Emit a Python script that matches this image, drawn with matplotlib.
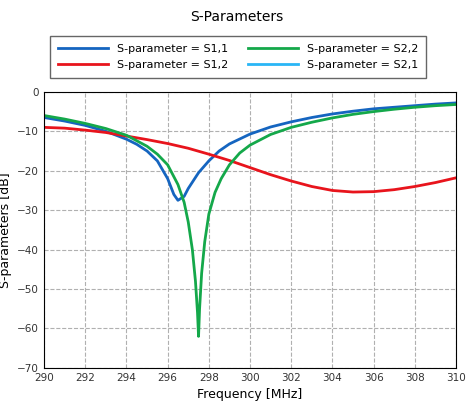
import numpy as np
import matplotlib.pyplot as plt

freq_s11 = [290, 291, 292, 293, 294, 294.5, 295, 295.5, 296, 296.3, 296.5, 296.8, 297, 297.5, 298, 298.5, 299, 300, 301, 302, 303, 304, 305, 306, 307, 308, 309, 310]
s11 = [-6.5, -7.4, -8.5, -10, -12, -13.3, -15, -17.5, -22, -26, -27.5, -26.5, -24.5, -20.5, -17.5, -15, -13.2, -10.7, -8.9, -7.6, -6.5, -5.6, -4.9, -4.3, -3.9, -3.5, -3.1, -2.8]

freq_s22 = [290, 291, 292, 293, 294, 295, 295.5, 296, 296.5, 296.8, 297, 297.2, 297.35, 297.45, 297.5, 297.55, 297.65, 297.8, 298, 298.3, 298.6, 299, 299.5, 300, 301, 302, 303, 304, 305, 306, 307, 308, 309, 310]
s22 = [-6, -6.9, -8, -9.3, -11, -13.8, -15.8, -18.5, -23.5, -28, -33, -40, -48, -56, -62, -55, -46, -38, -31, -25.5, -22, -18.5, -15.5, -13.5, -10.8, -9, -7.7, -6.6, -5.7, -5, -4.4, -3.9, -3.5, -3.2]

freq_s12 = [290, 291, 292, 293, 294, 295, 296, 297, 298, 299, 300, 301, 302, 303, 304, 305, 306, 307, 308, 309, 310]
s12 = [-9, -9.2, -9.7, -10.3, -11.2, -12.1, -13.1, -14.3, -15.8, -17.4, -19.2, -21, -22.6, -24, -25, -25.4, -25.3, -24.8, -24, -23, -21.8]
s21 = s12

fig, ax = plt.subplots(figsize=(4.74, 4.12), dpi=100)
fig.subplots_adjust(left=0.093, right=0.962, top=0.777, bottom=0.107)

ax.plot(freq_s11, s11, color='#1565c0', lw=2, label='S-parameter = S1,1')
ax.plot(freq_s12, s12, color='#e8141c', lw=2, label='S-parameter = S1,2')
ax.plot(freq_s22, s22, color='#14a84a', lw=2, label='S-parameter = S2,2')
ax.plot(freq_s12, s21, color='#29b6f6', lw=2, alpha=0, label='S-parameter = S2,1')

ax.set_xlim(290, 310)
ax.set_ylim(-70, 0)
ax.set_xticks(np.arange(290, 311, 2))
ax.set_yticks(np.arange(-70, 1, 10))
ax.grid(True, color='#b0b0b0', ls='--', lw=0.8)
ax.tick_params(labelsize=7.5, length=0, labelcolor='#333333')
ax.set_xlabel('Frequency [MHz]', fontsize=9)
ax.set_ylabel('S-parameters [dB]', fontsize=9)
fig.suptitle('S-Parameters', fontsize=10, y=0.975)

leg = fig.legend(ncol=2, loc='center', bbox_to_anchor=(0.502, 0.862), fontsize=8,
                 fancybox=False, edgecolor='#404040', handlelength=4.5,
                 columnspacing=1.8, borderpad=0.7, labelspacing=0.6)
for h in leg.legend_handles:
    h.set_alpha(1)
    h.set_linewidth(2)

fig.savefig('out.png')
